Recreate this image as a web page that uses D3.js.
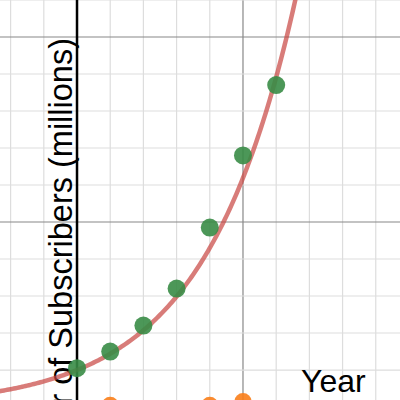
<!DOCTYPE html>
<html><head><meta charset="utf-8">
<script src="https://cdn.jsdelivr.net/npm/d3@7"></script>
<style>body{margin:0;background:#fff}</style>
</head><body>
<svg id="chart" width="400" height="400"></svg>
<script>
// data
var years = [0, 1, 2, 3, 4, 5, 6];
var subscribers = [1.05, 1.5, 2.2, 3.2, 4.85, 6.8, 8.7];
var otherYears = [0, 1, 2, 4, 5];
var otherValues = [-0.05, 0.05, -0.05, 0.05, 0.15];
var fitA = 1.0, fitB = 1.44;

var w = 400, h = 400;
var x = d3.scaleLinear().domain([-2.32, 9.73]).range([0, w]);
var y = d3.scaleLinear().domain([0.19, 11]).range([h, 0]);
var svg = d3.select('#chart');

var xs = d3.range(-2, 10), ys = d3.range(1, 12);
// grid
svg.selectAll('.vx').data(xs).enter().append('line')
  .attr('x1', d => x(d)).attr('x2', d => x(d)).attr('y1', 0).attr('y2', h)
  .attr('stroke', d => d % 5 === 0 ? '#888' : '#ddd')
  .attr('stroke-width', 1.2);
svg.selectAll('.hy').data(ys).enter().append('line')
  .attr('y1', d => y(d)).attr('y2', d => y(d)).attr('x1', 0).attr('x2', w)
  .attr('stroke', d => d % 5 === 0 ? '#888' : '#ddd')
  .attr('stroke-width', 1.2);
// y axis
svg.append('line').attr('x1', x(0)).attr('x2', x(0)).attr('y1', 0).attr('y2', h)
  .attr('stroke', '#000').attr('stroke-width', 2.5);

// labels
svg.append('text').attr('transform', 'translate(' + (x(0) - 5) + ',38) rotate(-90)')
  .attr('text-anchor', 'end').attr('font-family', 'Arial, Liberation Sans, sans-serif')
  .attr('font-size', 32.5).text('Number of Subscribers (millions)');
svg.append('text').attr('x', 301).attr('y', 392)
  .attr('font-family', 'Arial, Liberation Sans, sans-serif').attr('font-size', 32).text('Year');

// fit curve
var line = d3.line().x(d => x(d)).y(d => y(fitA * Math.pow(fitB, d)));
svg.append('path').datum(d3.range(-2.4, 7.2, 0.05)).attr('d', line)
  .attr('fill', 'none').attr('stroke', '#c74440').attr('stroke-opacity', 0.7).attr('stroke-width', 4.5);

// points
svg.selectAll('.o').data(otherYears).enter().append('circle')
  .attr('cx', d => x(d)).attr('cy', (d, i) => y(otherValues[i])).attr('r', 8.5)
  .attr('fill', '#fa7e19').attr('fill-opacity', 0.9);
svg.selectAll('.g').data(years).enter().append('circle')
  .attr('cx', d => x(d)).attr('cy', (d, i) => y(subscribers[i])).attr('r', 9)
  .attr('fill', '#388c46').attr('fill-opacity', 0.9);
</script>
</body></html>
